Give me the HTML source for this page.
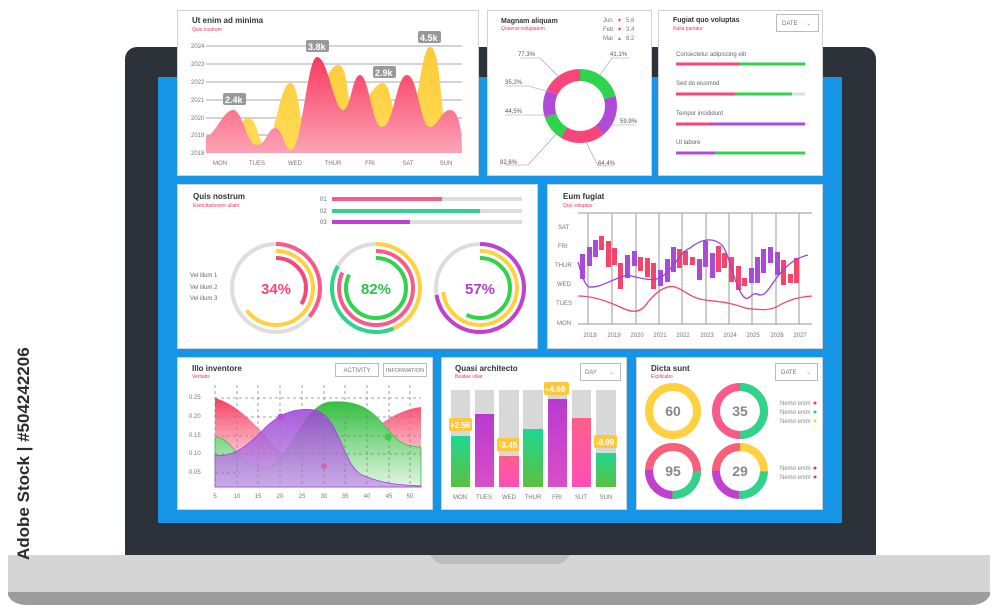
<!DOCTYPE html>
<html><head><meta charset="utf-8"><style>
html,body{margin:0;padding:0;background:#fff;}
svg{display:block;font-family:"Liberation Sans",sans-serif;}
</style></head><body>
<svg width="1000" height="613" viewBox="0 0 1000 613" xmlns="http://www.w3.org/2000/svg">
<defs>
<linearGradient id="gr" x1="0" y1="0" x2="0" y2="1"><stop offset="0" stop-color="#f8395f"/><stop offset="1" stop-color="#fca3b5"/></linearGradient>
<linearGradient id="gy" x1="0" y1="0" x2="0" y2="1"><stop offset="0" stop-color="#ffc93a"/><stop offset="1" stop-color="#ffdd55"/></linearGradient>
<linearGradient id="gr2" x1="0" y1="0" x2="0" y2="1"><stop offset="0" stop-color="#f83a5e"/><stop offset="1" stop-color="#fde0e6" stop-opacity=".5"/></linearGradient>
<linearGradient id="gg2" x1="0" y1="0" x2="0" y2="1"><stop offset="0" stop-color="#33c040"/><stop offset="1" stop-color="#e4f5e4"/></linearGradient>
<linearGradient id="gp2" x1="0" y1="0" x2="0" y2="1"><stop offset="0" stop-color="#9c3fd8"/><stop offset="1" stop-color="#c59ee6"/></linearGradient>
<linearGradient id="bg" x1="0" y1="0" x2="0" y2="1"><stop offset="0" stop-color="#1ed890"/><stop offset="1" stop-color="#5cc040"/></linearGradient>
<linearGradient id="bp" x1="0" y1="0" x2="0" y2="1"><stop offset="0" stop-color="#b83ad0"/><stop offset="1" stop-color="#d94fc8"/></linearGradient>
<linearGradient id="bk" x1="0" y1="0" x2="0" y2="1"><stop offset="0" stop-color="#ff5f8a"/><stop offset="1" stop-color="#ff4fb8"/></linearGradient>
</defs>

<!-- laptop -->
<rect x="125" y="47" width="751" height="520" rx="12" fill="#2b3239"/>
<rect x="158" y="77" width="684" height="446" fill="#1695e6"/>
<path d="M8,555 L990,555 L990,590 Q990,603 975,603 L25,603 Q8,603 8,590 Z" fill="#d5d5d5"/>
<path d="M8,592 L990,592 L990,595 Q985,605 970,605 L28,605 Q12,605 8,595 Z" fill="#9c9c9c"/>
<path d="M430,555 L570,555 L565,561 Q562,564 555,564 L445,564 Q438,564 435,561 Z" fill="#bdbdbd"/>

<text transform="translate(29,560) rotate(-90)" font-size="17" font-weight="bold" fill="#2c2c2c">Adobe Stock | #504242206</text>

<!-- panels -->
<g fill="#fff" stroke="#cfd3d8" stroke-width="1">
<rect x="177.5" y="10.5" width="301" height="165"/>
<rect x="487.5" y="10.5" width="164" height="165"/>
<rect x="658.5" y="10.5" width="164" height="165"/>
<rect x="177.5" y="184.5" width="360" height="164"/>
<rect x="547.5" y="184.5" width="275" height="164"/>
<rect x="177.5" y="357.5" width="255" height="152"/>
<rect x="441.5" y="357.5" width="185" height="152"/>
<rect x="636.5" y="357.5" width="186" height="152"/>
</g>

<!-- Panel 1 -->
<text x="192" y="23" font-size="8" font-weight="bold" fill="#333">Ut enim ad minima</text>
<text x="192" y="31" font-size="5" fill="#f5365c">Quis nostrum</text>
<g stroke="#aaa" stroke-width="1">
<line x1="206" y1="46" x2="462" y2="46"/><line x1="206" y1="64" x2="462" y2="64"/><line x1="206" y1="82" x2="462" y2="82"/><line x1="206" y1="100" x2="462" y2="100"/><line x1="206" y1="118" x2="462" y2="118"/><line x1="206" y1="135" x2="462" y2="135"/>
</g>
<g font-size="6" fill="#777">
<text x="191" y="48">2024</text><text x="191" y="66">2023</text><text x="191" y="84">2022</text><text x="191" y="102">2021</text><text x="191" y="120">2020</text><text x="191" y="137">2019</text><text x="191" y="155">2018</text>
</g>
<path d="M220,153 C232,153 238,118 248,118 C258,118 258,145 265,145 C274,145 280,83 290,83 C300,83 298,125 305,125 C312,125 325,65 338,65 C350,65 345,110 355,110 C365,110 372,83 383,83 C392,83 392,128 405,128 C418,128 420,47 430,47 C442,47 440,128 448,128 L450,153 Z" fill="url(#gy)"/>
<path d="M206,153 L206,136 C215,136 223,110 233,110 C243,110 246,145 257,145 C266,145 268,128 275,128 C283,128 284,150 291,150 C302,150 307,57 317,57 C328,57 334,110 343,110 C351,110 352,75 360,75 C369,75 372,127 382,127 C394,127 396,75 407,75 C418,75 420,127 430,127 C438,127 441,110 450,110 C459,110 462,130 462,153 Z" fill="url(#gr)"/>
<g font-size="9" font-weight="bold" fill="#fff">
<rect x="223" y="93" width="23" height="12" rx="2" fill="#999"/><text x="225" y="103">2.4k</text>
<rect x="306" y="40" width="23" height="12" rx="2" fill="#999"/><text x="308" y="50">3.8k</text>
<rect x="373" y="66" width="23" height="12" rx="2" fill="#999"/><text x="375" y="76">2.9k</text>
<rect x="418" y="31" width="23" height="12" rx="2" fill="#999"/><text x="420" y="41">4.5k</text>
</g>
<g font-size="6" fill="#777" text-anchor="middle">
<text x="220" y="165">MON</text><text x="257" y="165">TUES</text><text x="295" y="165">WED</text><text x="333" y="165">THUR</text><text x="370" y="165">FRI</text><text x="408" y="165">SAT</text><text x="446" y="165">SUN</text>
</g>

<!-- Panel 2 donut -->
<text x="501" y="23" font-size="7" font-weight="bold" fill="#333">Magnam aliquam</text>
<text x="501" y="30" font-size="5" fill="#f5365c">Quaerat voluptatem</text>
<g font-size="6" fill="#777">
<text x="603" y="22">Jun</text><text x="603" y="31">Feb</text><text x="603" y="40">Mar</text>
<text x="618" y="22" fill="#f5365c">▾</text><text x="618" y="31" fill="#f5365c">▾</text><text x="618" y="40" fill="#2ec04a">▴</text>
<text x="626" y="22">5,6</text><text x="626" y="31">3,4</text><text x="626" y="40">8,2</text>
</g>
<g fill="none" stroke-width="12" transform="rotate(-90 580 106)">
<circle cx="580" cy="106" r="31" stroke="#2fd34c" stroke-dasharray="40 155" stroke-dashoffset="0"/>
<circle cx="580" cy="106" r="31" stroke="#b04ad8" stroke-dasharray="36 159" stroke-dashoffset="-40"/>
<circle cx="580" cy="106" r="31" stroke="#f8467a" stroke-dasharray="38 157" stroke-dashoffset="-76"/>
<circle cx="580" cy="106" r="31" stroke="#2fd34c" stroke-dasharray="22 173" stroke-dashoffset="-114"/>
<circle cx="580" cy="106" r="31" stroke="#b04ad8" stroke-dasharray="24 171" stroke-dashoffset="-136"/>
<circle cx="580" cy="106" r="31" stroke="#f8467a" stroke-dasharray="35 160" stroke-dashoffset="-160"/>
</g>
<g stroke="#999" stroke-width=".6" fill="none">
<path d="M520,58 L540,58 L560,78"/><path d="M505,86 L528,86 L550,92"/><path d="M505,115 L550,115"/><path d="M505,165 L528,165 L560,130"/>
<path d="M630,58 L612,58 L600,75"/><path d="M636,125 L612,125"/><path d="M614,166 L598,166 L585,140"/>
</g>
<g font-size="6" fill="#555">
<text x="518" y="56">77,3%</text><text x="505" y="84">35,2%</text><text x="505" y="113">44,5%</text><text x="500" y="164">82,6%</text>
<text x="610" y="56">41,1%</text><text x="620" y="123">59,9%</text><text x="598" y="165">64,4%</text>
</g>

<!-- Panel 3 -->
<text x="673" y="22" font-size="7" font-weight="bold" fill="#333">Fugiat quo voluptas</text>
<text x="673" y="30" font-size="5" fill="#f5365c">Nulla pariatur</text>
<rect x="776.5" y="14.5" width="42" height="17" fill="#fff" stroke="#bbb"/>
<text x="782" y="25" font-size="6" fill="#777">DATE</text><text x="806" y="25" font-size="6" fill="#999">⌄</text>
<g font-size="6" fill="#666">
<text x="676" y="56">Consectetur adipiscing elit</text><text x="676" y="85">Sed do eiusmod</text><text x="676" y="115">Tempor incididunt</text><text x="676" y="144">Ut labore</text>
</g>
<g stroke-width="3">
<line x1="676" y1="64" x2="805" y2="64" stroke="#ddd"/><line x1="676" y1="64" x2="740" y2="64" stroke="#f8467a"/><line x1="740" y1="64" x2="805" y2="64" stroke="#2fd34c"/>
<line x1="676" y1="94" x2="805" y2="94" stroke="#ddd"/><line x1="676" y1="94" x2="735" y2="94" stroke="#f8467a"/><line x1="735" y1="94" x2="792" y2="94" stroke="#2fd34c"/>
<line x1="676" y1="124" x2="805" y2="124" stroke="#ddd"/><line x1="676" y1="124" x2="710" y2="124" stroke="#f8467a"/><line x1="710" y1="124" x2="805" y2="124" stroke="#b04ad8"/>
<line x1="676" y1="153" x2="805" y2="153" stroke="#ddd"/><line x1="676" y1="153" x2="715" y2="153" stroke="#b04ad8"/><line x1="715" y1="153" x2="805" y2="153" stroke="#2fd34c"/>
</g>

<!-- Panel 4 -->
<text x="193" y="199" font-size="8" font-weight="bold" fill="#333">Quis nostrum</text>
<text x="193" y="207" font-size="5" fill="#f5365c">Exercitationem ullam</text>
<g font-size="6" fill="#666"><text x="320" y="201">01</text><text x="320" y="213">02</text><text x="320" y="224">03</text></g>
<g stroke-width="4">
<line x1="332" y1="199" x2="522" y2="199" stroke="#ddd"/><line x1="332" y1="199" x2="442" y2="199" stroke="#f85a8a"/>
<line x1="332" y1="211" x2="522" y2="211" stroke="#ddd"/><line x1="332" y1="211" x2="480" y2="211" stroke="#2fd38a"/>
<line x1="332" y1="222" x2="522" y2="222" stroke="#ddd"/><line x1="332" y1="222" x2="410" y2="222" stroke="#c040d0"/>
</g>
<g font-size="6" fill="#666"><text x="190" y="277">Vel illum 1</text><text x="190" y="289">Vel illum 2</text><text x="190" y="300">Vel illum 3</text></g>
<g fill="none" stroke-width="4">
<g transform="rotate(-90 276 288)">
<circle cx="276" cy="288" r="44" stroke="#ddd"/><circle cx="276" cy="288" r="44" stroke="#f85a8a" stroke-dasharray="100 177"/>
<circle cx="276" cy="288" r="37" stroke="#ffd040" stroke-dasharray="150 83"/>
<circle cx="276" cy="288" r="30" stroke="#f8467a" stroke-dasharray="64 125"/>
</g>
<g transform="rotate(-90 376 288)">
<circle cx="376" cy="288" r="44" stroke="#ddd"/><circle cx="376" cy="288" r="44" stroke="#ffd040" stroke-dasharray="120 157"/><circle cx="376" cy="288" r="44" stroke="#2fd38a" stroke-dasharray="110 167" stroke-dashoffset="-120"/>
<circle cx="376" cy="288" r="37" stroke="#f85a8a" stroke-dasharray="190 43"/>
<circle cx="376" cy="288" r="30" stroke="#2fd34c" stroke-dasharray="155 34"/>
</g>
<g transform="rotate(-90 480 288)">
<circle cx="480" cy="288" r="44" stroke="#ddd"/><circle cx="480" cy="288" r="44" stroke="#c040d0" stroke-dasharray="200 77"/>
<circle cx="480" cy="288" r="37" stroke="#ffd040" stroke-dasharray="170 63"/>
<circle cx="480" cy="288" r="30" stroke="#2fd34c" stroke-dasharray="108 81"/>
</g>
</g>
<g font-size="15" font-weight="bold" text-anchor="middle">
<text x="276" y="294" fill="#f8467a">34%</text><text x="376" y="294" fill="#2ec04a">82%</text><text x="480" y="294" fill="#b040c8">57%</text>
</g>

<!-- Panel 5 candles -->
<text x="563" y="199" font-size="8" font-weight="bold" fill="#333">Eum fugiat</text>
<text x="563" y="207" font-size="5" fill="#f5365c">Quo voluptas</text>
<g stroke="#aaa" stroke-width="1.2">
<line x1="578" y1="213" x2="812" y2="213"/><line x1="578" y1="324" x2="812" y2="324"/>
<line x1="588" y1="213" x2="588" y2="324"/><line x1="612" y1="213" x2="612" y2="324"/><line x1="636" y1="213" x2="636" y2="324"/><line x1="659" y1="213" x2="659" y2="324"/><line x1="682" y1="213" x2="682" y2="324"/><line x1="706" y1="213" x2="706" y2="324"/><line x1="729" y1="213" x2="729" y2="324"/><line x1="752" y1="213" x2="752" y2="324"/><line x1="776" y1="213" x2="776" y2="324"/><line x1="799" y1="213" x2="799" y2="324"/>
</g>
<g font-size="6" fill="#777">
<text x="558" y="229">SAT</text><text x="558" y="248">FRI</text><text x="555" y="267">THUR</text><text x="557" y="286">WED</text><text x="556" y="305">TUES</text><text x="557" y="325">MON</text>
</g>
<g font-size="6" fill="#777" text-anchor="middle">
<text x="590" y="337">2018</text><text x="614" y="337">2019</text><text x="637" y="337">2020</text><text x="660" y="337">2021</text><text x="683" y="337">2022</text><text x="707" y="337">2023</text><text x="730" y="337">2024</text><text x="753" y="337">2025</text><text x="777" y="337">2026</text><text x="800" y="337">2027</text>
</g>
<g>
<rect x="580" y="254" width="5" height="25" fill="#a94ad8"/><rect x="587" y="247" width="5" height="19" fill="#a94ad8"/><rect x="593" y="240" width="5" height="17" fill="#a94ad8"/>
<rect x="599" y="236" width="5" height="14" fill="#f5456a"/><rect x="606" y="241" width="5" height="26" fill="#f5456a"/><rect x="612" y="248" width="5" height="17" fill="#f5456a"/>
<rect x="618" y="263" width="5" height="26" fill="#f5456a"/><rect x="625" y="255" width="5" height="23" fill="#a94ad8"/><rect x="632" y="251" width="5" height="15" fill="#a94ad8"/>
<rect x="638" y="257" width="5" height="14" fill="#f5456a"/><rect x="645" y="258" width="5" height="19" fill="#f5456a"/><rect x="651" y="263" width="5" height="26" fill="#f5456a"/>
<rect x="658" y="270" width="5" height="16" fill="#a94ad8"/><rect x="665" y="259" width="5" height="23" fill="#a94ad8"/><rect x="671" y="247" width="5" height="25" fill="#a94ad8"/>
<rect x="677" y="249" width="5" height="19" fill="#f5456a"/><rect x="683" y="251" width="5" height="14" fill="#f5456a"/><rect x="690" y="257" width="5" height="8" fill="#f5456a"/>
<rect x="697" y="259" width="5" height="21" fill="#a94ad8"/><rect x="703" y="241" width="5" height="26" fill="#a94ad8"/><rect x="710" y="253" width="5" height="25" fill="#a94ad8"/>
<rect x="716" y="246" width="5" height="26" fill="#f5456a"/><rect x="722" y="253" width="5" height="15" fill="#f5456a"/><rect x="729" y="257" width="5" height="25" fill="#f5456a"/>
<rect x="736" y="266" width="5" height="24" fill="#f5456a"/><rect x="742" y="278" width="5" height="8" fill="#f5456a"/><rect x="749" y="268" width="5" height="15" fill="#a94ad8"/>
<rect x="755" y="257" width="5" height="26" fill="#a94ad8"/><rect x="761" y="249" width="5" height="24" fill="#a94ad8"/><rect x="768" y="247" width="5" height="16" fill="#a94ad8"/>
<rect x="775" y="252" width="5" height="23" fill="#a94ad8"/><rect x="781" y="260" width="5" height="25" fill="#f5456a"/><rect x="788" y="274" width="5" height="9" fill="#f5456a"/><rect x="794" y="258" width="5" height="25" fill="#f5456a"/>
</g>
<path d="M578,262 C582,275 585,287 590,287 C600,288 610,280 627,275 C637,277 650,282 660,278 C673,270 680,252 690,248 C700,240 712,236 722,245 C730,255 735,290 745,298 C750,300 752,292 757,294 C764,298 768,290 775,280 C785,266 795,258 808,255" fill="none" stroke="#9b40e0" stroke-width="1.3"/>
<path d="M578,296 C590,296 605,300 620,307 C630,312 640,315 648,302 C658,290 667,285 675,287 C685,290 690,298 705,300 C720,302 730,302 745,308 C760,310 770,311 778,306 C790,299 800,297 812,296" fill="none" stroke="#f5456a" stroke-width="1.3"/>

<!-- Panel 6 -->
<text x="192" y="371" font-size="8" font-weight="bold" fill="#333">Illo inventore</text>
<text x="192" y="378" font-size="5" fill="#f5365c">Veritatis</text>
<rect x="335.5" y="363.5" width="43" height="13" fill="#fff" stroke="#bbb"/><text x="357" y="372" font-size="6" fill="#777" text-anchor="middle">ACTIVITY</text>
<rect x="383.5" y="363.5" width="43" height="13" fill="#fff" stroke="#bbb"/><text x="405" y="372" font-size="5.5" fill="#777" text-anchor="middle">INFORMATION</text>
<g font-size="6" fill="#777"><text x="189" y="399">0.25</text><text x="189" y="418">0.20</text><text x="189" y="437">0.15</text><text x="189" y="455">0.10</text><text x="189" y="474">0.05</text></g>
<path d="M215,398 C240,405 260,430 280,452 C300,472 320,470 340,458 C360,440 390,410 421,407 L421,487 L215,487 Z" fill="url(#gr2)"/>
<path d="M215,437 C232,437 238,465 262,468 C290,470 300,405 330,402 C360,400 372,410 388,430 C400,445 410,447 421,447 L421,487 L215,487 Z" fill="url(#gg2)" stroke="#33c040" stroke-width=".8"/>
<path d="M215,455 C235,458 248,445 268,425 C285,410 300,408 315,410 C340,416 342,465 362,475 C385,485 405,485 421,486 L421,487 L215,487 Z" fill="url(#gp2)" fill-opacity=".85" stroke="#a040e0" stroke-width=".8"/>
<g stroke="#888" stroke-width=".8" stroke-dasharray="3 3" fill="none">
<line x1="215" y1="398" x2="421" y2="398"/><line x1="215" y1="417" x2="421" y2="417"/><line x1="215" y1="436" x2="421" y2="436"/><line x1="215" y1="454" x2="421" y2="454"/><line x1="215" y1="473" x2="240" y2="473"/>
<line x1="215" y1="385" x2="215" y2="487"/><line x1="237" y1="385" x2="237" y2="487"/><line x1="258" y1="385" x2="258" y2="487"/><line x1="280" y1="385" x2="280" y2="487"/><line x1="302" y1="385" x2="302" y2="487"/><line x1="324" y1="385" x2="324" y2="487"/><line x1="345" y1="385" x2="345" y2="487"/><line x1="367" y1="385" x2="367" y2="487"/><line x1="389" y1="385" x2="389" y2="487"/><line x1="410" y1="385" x2="410" y2="487"/>
</g>
<circle cx="281" cy="417" r="3.5" fill="#b050d8"/><circle cx="324" cy="466" r="3" fill="#d06aa8"/><circle cx="388" cy="437" r="3.5" fill="#2fd34c"/>
<g font-size="6" fill="#777" text-anchor="middle">
<text x="215" y="498">5</text><text x="237" y="498">10</text><text x="258" y="498">15</text><text x="280" y="498">20</text><text x="302" y="498">25</text><text x="324" y="498">30</text><text x="345" y="498">35</text><text x="367" y="498">40</text><text x="389" y="498">45</text><text x="410" y="498">50</text>
</g>

<!-- Panel 7 -->
<text x="455" y="371" font-size="8" font-weight="bold" fill="#333">Quasi architecto</text>
<text x="455" y="378" font-size="5" fill="#f5365c">Beatae vilae</text>
<rect x="580.5" y="363.5" width="40" height="17" fill="#fff" stroke="#bbb"/><text x="585" y="374" font-size="6" fill="#777">DAY</text><text x="609" y="374" font-size="6" fill="#999">⌄</text>
<g fill="#d8d8d8">
<rect x="451" y="390" width="19" height="97"/><rect x="475" y="390" width="19" height="97"/><rect x="499" y="390" width="20" height="97"/><rect x="523" y="390" width="20" height="97"/><rect x="548" y="390" width="19" height="97"/><rect x="572" y="390" width="19" height="97"/><rect x="596" y="390" width="20" height="97"/>
</g>
<rect x="451" y="436" width="19" height="51" fill="url(#bg)"/>
<rect x="475" y="414" width="19" height="73" fill="url(#bp)"/>
<rect x="499" y="456" width="20" height="31" fill="url(#bk)"/>
<rect x="523" y="429" width="20" height="58" fill="url(#bg)"/>
<rect x="548" y="399" width="19" height="88" fill="url(#bp)"/>
<rect x="572" y="418" width="19" height="69" fill="url(#bk)"/>
<rect x="596" y="453" width="20" height="34" fill="url(#bg)"/>
<g font-size="8" font-weight="bold" fill="#fff">
<rect x="449" y="418" width="23" height="13" rx="2" fill="#ffc83a"/><text x="450" y="428">+2.56</text>
<rect x="497" y="438" width="22" height="13" rx="2" fill="#ffc83a"/><text x="499" y="448">-3.45</text>
<rect x="544" y="382" width="25" height="13" rx="2" fill="#ffc83a"/><text x="545" y="392">+4.68</text>
<rect x="594" y="435" width="23" height="13" rx="2" fill="#ffc83a"/><text x="596" y="445">-8.99</text>
</g>
<g font-size="6" fill="#777" text-anchor="middle">
<text x="460" y="499">MON</text><text x="484" y="499">TUES</text><text x="509" y="499">WED</text><text x="533" y="499">THUR</text><text x="557" y="499">FRI</text><text x="581" y="499">SUT</text><text x="606" y="499">SUN</text>
</g>

<!-- Panel 8 -->
<text x="651" y="371" font-size="8" font-weight="bold" fill="#333">Dicta sunt</text>
<text x="651" y="378" font-size="5" fill="#f5365c">Explicabo</text>
<rect x="775.5" y="363.5" width="42" height="17" fill="#fff" stroke="#bbb"/><text x="781" y="374" font-size="6" fill="#777">DATE</text><text x="806" y="374" font-size="6" fill="#999">⌄</text>
<g fill="none" stroke-width="8">
<circle cx="673" cy="411" r="24" stroke="#ffd040"/>
<g transform="rotate(-90 740 411)"><circle cx="740" cy="411" r="24" stroke="#f85a8a"/><circle cx="740" cy="411" r="24" stroke="#2fd38a" stroke-dasharray="75 76"/></g>
<g transform="rotate(-90 673 471)"><circle cx="673" cy="471" r="24" stroke="#f8607a"/><circle cx="673" cy="471" r="24" stroke="#2fd38a" stroke-dasharray="38 113" stroke-dashoffset="-38"/><circle cx="673" cy="471" r="24" stroke="#c040d0" stroke-dasharray="38 113" stroke-dashoffset="-76"/></g>
<g transform="rotate(-90 740 471)"><circle cx="740" cy="471" r="24" stroke="#ffd040" stroke-dasharray="38 113"/><circle cx="740" cy="471" r="24" stroke="#2fd38a" stroke-dasharray="38 113" stroke-dashoffset="-38"/><circle cx="740" cy="471" r="24" stroke="#c040d0" stroke-dasharray="38 113" stroke-dashoffset="-76"/><circle cx="740" cy="471" r="24" stroke="#f8607a" stroke-dasharray="38 113" stroke-dashoffset="-113"/></g>
</g>
<g font-size="14" font-weight="bold" fill="#888" text-anchor="middle">
<text x="673" y="416">60</text><text x="740" y="416">35</text><text x="673" y="476">95</text><text x="740" y="476">29</text>
</g>
<g font-size="6" fill="#888">
<text x="780" y="405">Nemo enim</text><text x="780" y="414">Nemo enim</text><text x="780" y="423">Nemo enim</text>
<text x="780" y="470">Nemo enim</text><text x="780" y="479">Nemo enim</text>
</g>
<circle cx="815" cy="403" r="1.5" fill="#f5365c"/><circle cx="815" cy="412" r="1.5" fill="#2fd34c"/><circle cx="815" cy="421" r="1.5" fill="#ffc83a"/>
<circle cx="815" cy="468" r="1.5" fill="#f5365c"/><circle cx="815" cy="477" r="1.5" fill="#b040c8"/>
</svg>
</body></html>
